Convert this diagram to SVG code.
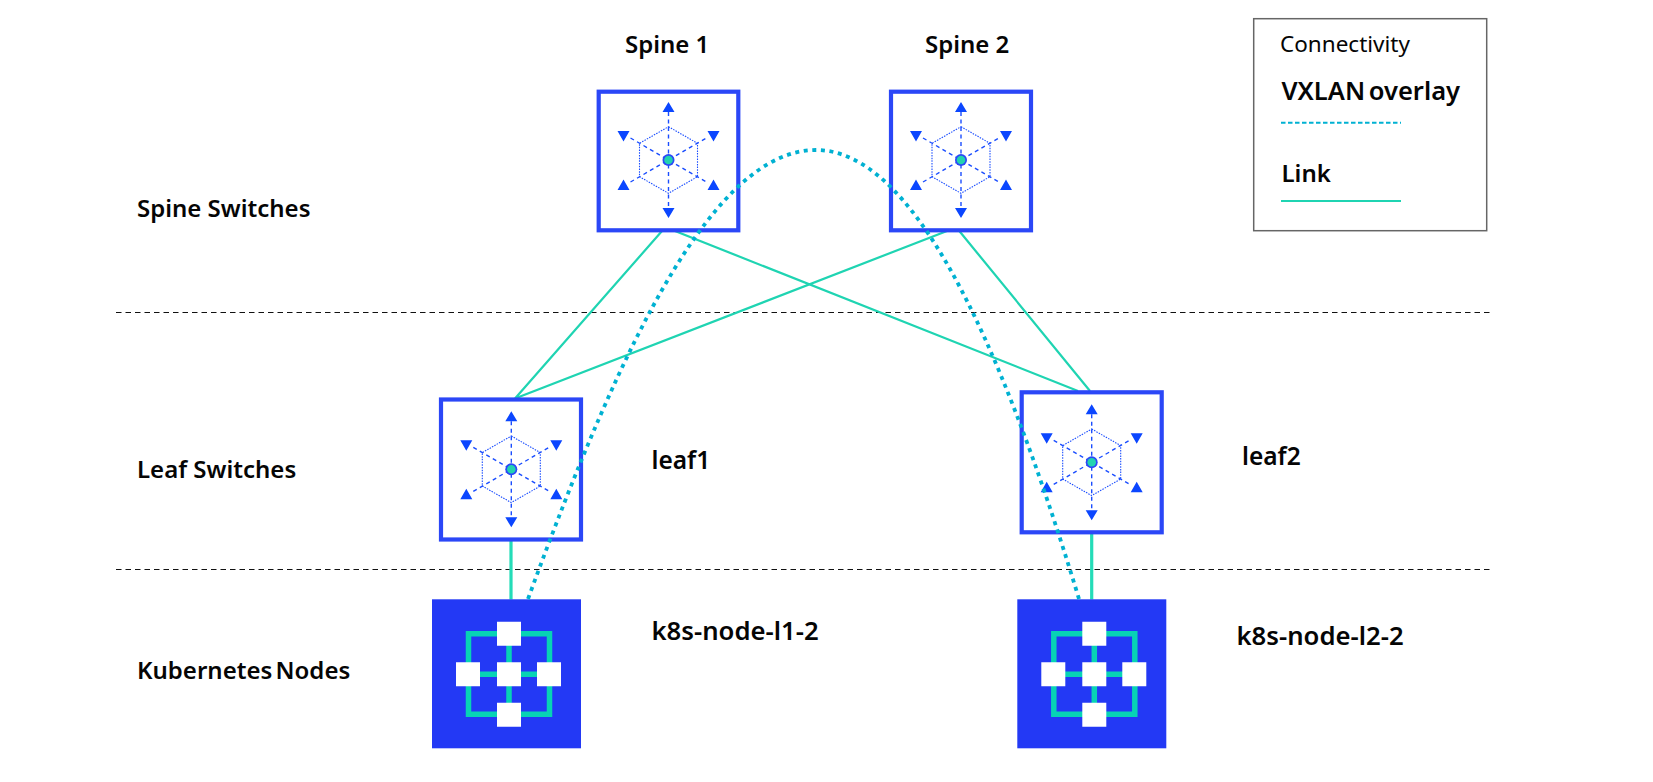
<svg xmlns="http://www.w3.org/2000/svg" xmlns:xlink="http://www.w3.org/1999/xlink" width="1653" height="782" viewBox="0 0 1653 782">
<style>
text{font-family:"Noto Sans","Open Sans",sans-serif;fill:#050505}
.b{font-weight:600;font-size:24px}
.m{font-weight:600;font-size:25.700px}
.box{fill:#fff;stroke:#2b47f7;stroke-width:4.200}
.hex{fill:none;stroke:#1a4dff;stroke-width:1.1;stroke-dasharray:1.5 1.2}
.spoke{fill:none;stroke:#1a4dff;stroke-width:1.4;stroke-dasharray:4 3.500}
.tri{fill:#0b46ff}
.link{fill:none;stroke:#1fd4b2;stroke-width:2.200}
.drop{fill:none;stroke:#24dcb8;stroke-width:3.200}
.sep{fill:none;stroke:#111;stroke-width:1.2;stroke-dasharray:5.500 4}
.over{fill:none;stroke:#00b1d2;stroke-width:3.800;stroke-dasharray:4 4.600}
.sq{fill:#fff}
.net{fill:none;stroke:#07d3b5;stroke-width:5.500}
</style>
<defs>
<g id="sw">
<path class="hex" d="M0-33.3L29-16.7V16.7L0 33.3L-29 16.7V-16.7Z"/>
<path class="spoke" d="M0-48V48M-38-22L38 22M-38 22L38-22"/>
<path class="tri" d="M0-58L6-48H-6ZM0 58L6 48H-6ZM-45-18.500L-51-29H-39ZM45-18.500L51-29H39ZM-45 19.500L-51 30H-39ZM45 19.500L51 30H39Z"/>
<circle r="6" fill="#2b47f7"/><circle r="4.300" fill="#22d3b0"/>
</g>
<g id="k8s">
<rect width="149" height="149" fill="#2339f5"/>
<path class="net" d="M36.500 34.500H117.500V115H36.500ZM77 34.500V115M36.500 75H117.500"/>
<path class="sq" d="M65 22.500h24v24h-24zM65 63h24v24h-24zM65 103.500h24v24h-24zM24 63h24v24h-24zM105 63h24v24h-24z"/>
</g>
</defs>
<g id="connectors">
<path class="sep" d="M116 312.500H1491M116 569.500H1491"/>
<path class="link" d="M662 231L515 398.500M675 231L1078 391M947 231L515 398.500M959.300 231L1090 391"/>
<path class="drop" d="M511 541V599.500M1091.700 533V599.500"/>
</g>
<g id="spine1"><rect class="box" x="598.700" y="91.700" width="139.600" height="138.600"/><use xlink:href="#sw" x="668.500" y="160"/><text class="b" x="625" y="53">Spine 1</text></g>
<g id="spine2"><rect class="box" x="891" y="91.700" width="140" height="138.600"/><use xlink:href="#sw" x="961" y="160"/><text class="b" x="925" y="53">Spine 2</text></g>
<g id="leaf1"><rect class="box" x="441" y="399.500" width="140" height="140"/><use xlink:href="#sw" x="511.300" y="469.300"/><text class="b" x="651.500" y="469" style="font-size:24.500px">leaf1</text></g>
<g id="leaf2"><rect class="box" x="1021.700" y="392.300" width="140" height="140"/><use xlink:href="#sw" x="1091.700" y="462.300"/><text class="b" x="1242" y="465" style="font-size:24.500px">leaf2</text></g>
<g id="node1"><use xlink:href="#k8s" x="432" y="599.300"/><text class="m" x="651.500" y="640">k8s-node-l1-2</text></g>
<g id="node2"><use xlink:href="#k8s" x="1017.300" y="599.300"/><text class="m" x="1236.500" y="645">k8s-node-l2-2</text></g>
<g id="overlay-connector"><path class="over" d="M528 599C625 333 716 150 816 150C911 150 997 329 1079 599"/></g>
<g id="labels">
<text class="b" x="137" y="217">Spine Switches</text>
<text class="b" x="137" y="478">Leaf Switches</text>
<text class="b" x="137" y="679" style="word-spacing:-3px">Kubernetes Nodes</text>
</g>
<g id="legend">
<rect x="1253.700" y="18.700" width="233" height="212" fill="#fff" stroke="#666" stroke-width="1.500"/>
<text x="1280" y="52" font-size="22.500">Connectivity</text>
<text class="b" x="1281.500" y="100" style="font-size:25.500px;word-spacing:-3px">VXLAN overlay</text>
<path d="M1281 122.700H1401" fill="none" stroke="#00b1d2" stroke-width="2" stroke-dasharray="4.500 2.500"/>
<text class="b" x="1281.500" y="182">Link</text>
<path class="link" d="M1281 201H1401"/>
</g>
</svg>
